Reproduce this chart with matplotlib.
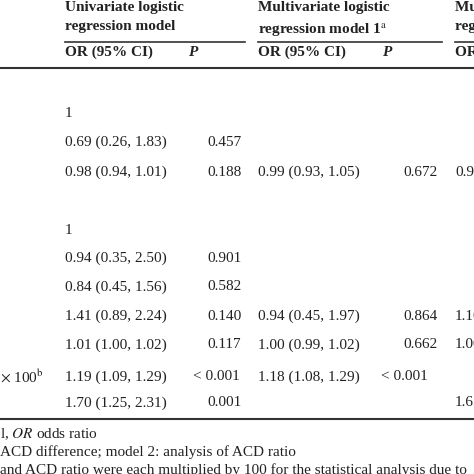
import matplotlib.pyplot as plt

# header texts
header_cols = ["Univariate logistic\nregression model",
               "Multivariate logistic\nregression model 1$^{\\mathrm{a}}$",
               "Multivariate logistic\nregression model 2"]
col_x = [65, 258, 455]
p_x = [207, 395, 600]

# rows: (y, left label, [(or, p), ...])
rows = [
    (113, "", [("1", ""), ("", ""), ("", "")]),
    (142, "", [("0.69 (0.26, 1.83)", "0.457"), ("", ""), ("", "")]),
    (172, "", [("0.98 (0.94, 1.01)", "0.188"), ("0.99 (0.93, 1.05)", "0.672"), ("0.99", "")]),
    (230, "", [("1", ""), ("", ""), ("", "")]),
    (258, "", [("0.94 (0.35, 2.50)", "0.901"), ("", ""), ("", "")]),
    (287, "", [("0.84 (0.45, 1.56)", "0.582"), ("", ""), ("", "")]),
    (316, "", [("1.41 (0.89, 2.24)", "0.140"), ("0.94 (0.45, 1.97)", "0.864"), ("1.10", "")]),
    (345, "", [("1.01 (1.00, 1.02)", "0.117"), ("1.00 (0.99, 1.02)", "0.662"), ("1.00", "")]),
    (377, "$\\times$ 100$^{\\mathrm{b}}$", [("1.19 (1.09, 1.29)", "< 0.001"), ("1.18 (1.08, 1.29)", "< 0.001"), ("", "")]),
    (403, "", [("1.70 (1.25, 2.31)", "0.001"), ("", ""), ("1.65", "")]),
]
p_shift = {"0.672": 403, "0.864": 403, "0.662": 403}

footnotes = ["l, $\\it{OR}$ odds ratio",
             "ACD difference; model 2: analysis of ACD ratio",
             "and ACD ratio were each multiplied by 100 for the statistical analysis due to"]

plt.rcParams['font.family'] = ['Liberation Serif', 'DejaVu Serif']
plt.rcParams['mathtext.fontset'] = 'stix'

fig = plt.figure(figsize=(4.74, 4.74), dpi=100)
ax = fig.add_axes([0, 0, 1, 1])
ax.set_xlim(0, 474)
ax.set_ylim(474, 0)
ax.axis("off")

fs = 11
for x, h in zip(col_x, header_cols):
    ax.text(x, 1, h, fontsize=fs, fontweight="bold", va="top", linespacing=1.55, color="#222222")
    ax.text(x, 52, "OR (95% CI)", fontsize=fs, fontweight="bold", va="center", color="#222222")
for x, x2, px in zip(col_x, [245, 442, 600], p_x):
    ax.plot([x, x2], [42, 42], color="#333333", lw=1.2)
    ax.text(px - 19 if px < 300 else px - 13, 52, "P", fontsize=fs, fontweight="bold",
            fontstyle="italic", va="center", color="#222222")
ax.plot([0, 474], [68, 68], color="#333333", lw=1.5)
ax.plot([0, 474], [419, 419], color="#333333", lw=1.5)

for y, lab, vals in rows:
    if lab:
        ax.text(0, y, lab, fontsize=fs, va="center", color="#222222")
    for (orv, pv), x, px in zip(vals, col_x, p_x):
        if orv:
            ax.text(x, y, orv, fontsize=fs, va="center", color="#222222")
        if pv:
            xx = p_shift.get(pv, px)
            if pv.startswith("<"):
                xx -= 14
            ax.text(xx, y, pv, fontsize=fs, va="center", color="#222222")

for i, t in enumerate(footnotes):
    ax.text(0, 434 + 18 * i, t, fontsize=11, va="center", color="#222222")

fig.savefig("out.png", dpi=100)
